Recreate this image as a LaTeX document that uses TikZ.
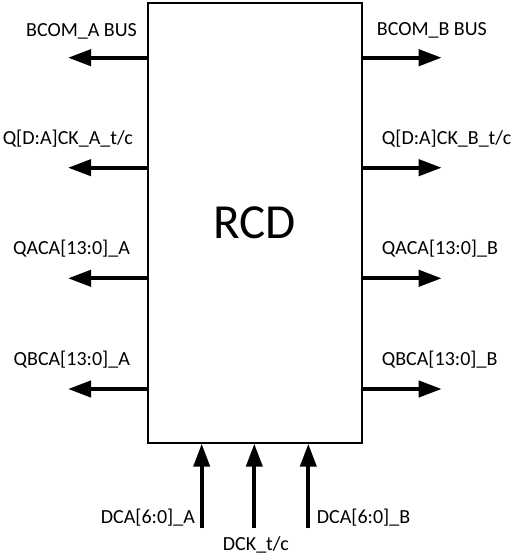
\documentclass[tikz,border=0pt]{standalone}
\usepackage{fontspec}
\setmainfont{Carlito}
\usetikzlibrary{arrows.meta}
\begin{document}
\begin{tikzpicture}[x=1pt,y=-1pt,
  bus/.style={line width=4pt,-{Triangle[length=23pt,width=16pt]}},
  lbl/.style={inner sep=0pt,font=\fontsize{20}{24}\selectfont,text=black},
  boxst/.style={draw,line width=2pt,minimum width=213.7pt,minimum height=440pt,inner sep=0pt}]
\useasboundingbox (0,0) rectangle (519,559);
\node[boxst] (rcd) at (254.85,222.7) {};
\node[inner sep=0pt,font=\fontsize{49}{58}\selectfont] (title) at (rcd.center) {RCD};
% left tips
\coordinate (l1) at (68,57.7);
\coordinate (l2) at (68,167.7);
\coordinate (l3) at (68,278.3);
\coordinate (l4) at (68,389);
% right tips
\coordinate (r1) at (441.7,57.7);
\coordinate (r2) at (441.7,167.7);
\coordinate (r3) at (441.7,278.3);
\coordinate (r4) at (441.7,389);
% bottom tails
\coordinate (b1) at (201.7,528);
\coordinate (b2) at (254.3,528);
\coordinate (b3) at (308.3,528);
\foreach \c in {l1,l2,l3,l4} \draw[bus] (rcd.west |- \c) -- (\c);
\foreach \c in {r1,r2,r3,r4} \draw[bus] (rcd.east |- \c) -- (\c);
\foreach \c in {b1,b2,b3} \draw[bus] (\c) -- (rcd.south -| \c);
% labels
\node[lbl,anchor=base east] (tl1) at (137,36.7) {BCOM\_A BUS};
\node[lbl,anchor=base east] (tl2) at (133,144) {Q[D:A]CK\_A\_t/c};
\node[lbl,anchor=base east] (tl3) at (130,254) {QACA[13:0]\_A};
\node[lbl,anchor=base east] (tl4) at (130,365) {QBCA[13:0]\_A};
\node[lbl,anchor=base west] (tr1) at (376.7,35.5) {BCOM\_B BUS};
\node[lbl,anchor=base west] (tr2) at (381.7,144) {Q[D:A]CK\_B\_t/c};
\node[lbl,anchor=base west] (tr3) at (381.7,254) {QACA[13:0]\_B};
\node[lbl,anchor=base west] (tr4) at (381.7,365) {QBCA[13:0]\_B};
\node[lbl,anchor=base east] (tb1) at (195,523.3) {DCA[6:0]\_A};
\node[lbl,anchor=base west] (tb2) at (222.7,550) {DCK\_t/c};
\node[lbl,anchor=base west] (tb3) at (316.7,523.3) {DCA[6:0]\_B};
\end{tikzpicture}
\end{document}
